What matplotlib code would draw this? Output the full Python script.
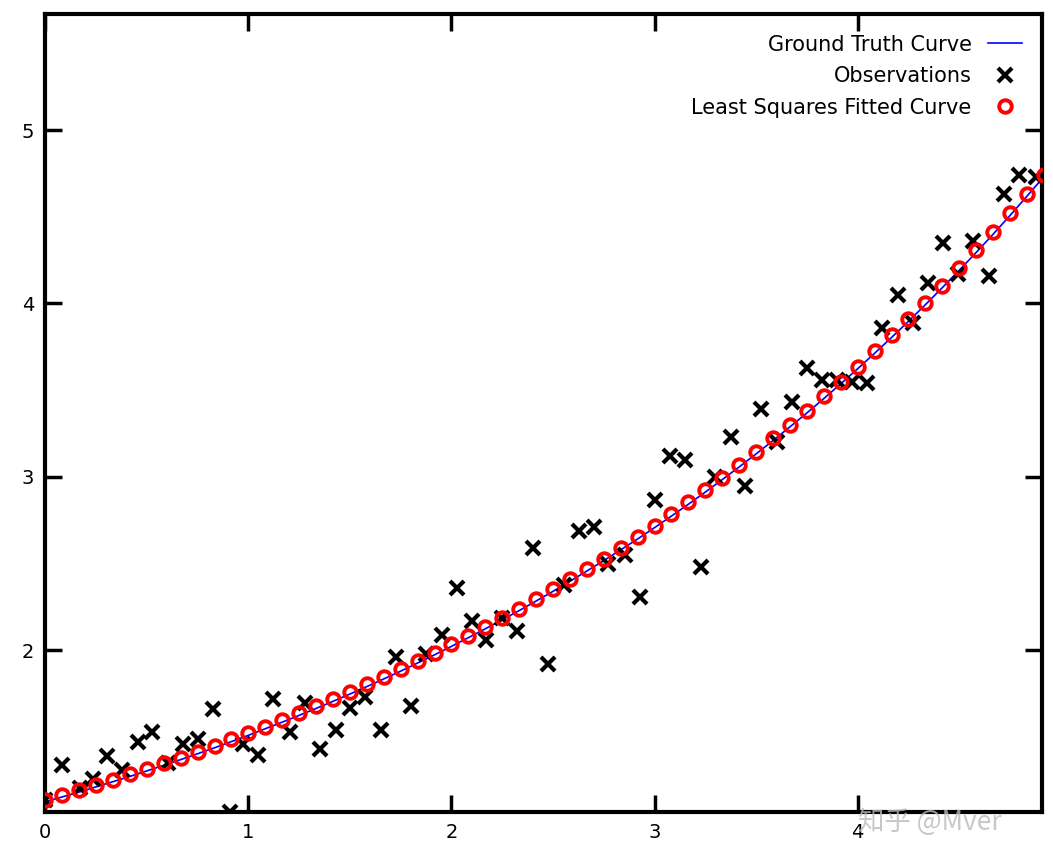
import matplotlib
matplotlib.use("Agg")
import matplotlib.pyplot as plt

fit_x = [i/12 for i in range(60)]
fit_y = [1.140,1.168,1.196,1.226,1.256,1.286,1.318,1.350,1.383,1.417,1.451,1.487,1.523,1.561,1.599,1.638,
         1.678,1.719,1.761,1.804,1.848,1.893,1.940,1.987,2.036,2.086,2.137,2.189,2.242,2.297,2.353,2.411,
         2.470,2.530,2.592,2.655,2.720,2.787,2.855,2.925,2.997,3.070,3.145,3.222,3.301,3.381,3.464,3.549,
         3.636,3.725,3.816,3.909,4.005,4.103,4.203,4.306,4.411,4.519,4.630,4.743]
truth_y = [v - 0.012 for v in fit_y]

obs_x = [0.0,.084,.172,.236,.305,.379,.458,.527,.606,.680,.754,.828,.911,.975,1.049,1.123,1.207,1.281,1.355,
         1.429,1.502,1.576,1.655,1.729,1.803,1.877,1.951,2.025,2.099,2.172,2.251,2.325,2.399,2.473,2.552,
         2.626,2.700,2.773,2.852,2.926,3.0,3.074,3.148,3.227,3.296,3.374,3.443,3.522,3.601,3.675,3.749,
         3.823,3.897,3.970,4.044,4.118,4.197,4.271,4.345,4.419,4.493,4.567,4.645,4.719,4.793,4.877]
obs_y = [1.14,1.34,1.21,1.26,1.39,1.31,1.47,1.53,1.35,1.46,1.49,1.66,1.07,1.46,1.40,1.72,1.53,1.70,1.43,
         1.54,1.67,1.73,1.54,1.96,1.68,1.98,2.09,2.36,2.17,2.06,2.19,2.11,2.59,1.92,2.38,2.69,2.71,2.50,
         2.55,2.31,2.87,3.12,3.10,2.48,3.00,3.23,2.95,3.39,3.20,3.43,3.63,3.56,3.56,3.55,3.54,3.86,4.05,
         3.89,4.12,4.35,4.17,4.36,4.16,4.63,4.74,4.73]

fig = plt.figure(figsize=(10.53, 8.60), dpi=100)
ax = fig.add_axes([0.043, 0.056, 0.947, 0.928])
ax.plot(fit_x, truth_y, color='#0000ff', lw=1.2, label='Ground Truth Curve', zorder=2)
ax.plot(obs_x, obs_y, 'x', color='black', ms=10, mew=3, label='Observations', zorder=3)
ax.plot(fit_x, fit_y, 'o', mfc='none', mec='#ff0000', ms=9, mew=2.8, label='Least Squares Fitted Curve', zorder=4)
ax.set_xlim(0, 4.91)
ax.set_ylim(1.07, 5.67)
ax.set_xticks([0,1,2,3,4])
ax.set_yticks([2,3,4,5])
ax.tick_params(direction='in', length=12, width=2.5, top=True, right=True, labelsize=14, pad=8)
for s in ax.spines.values():
    s.set_linewidth(3)
leg = ax.legend(loc='upper right', frameon=False, markerfirst=False, fontsize=15,
                handlelength=1.6, borderaxespad=0.6, labelspacing=0.55)
fig.text(0.815, 0.035, '知乎 @Mver', fontsize=19, color='#bbbbbb', alpha=0.8,
         family=['Noto Sans CJK SC', 'DejaVu Sans'])
fig.savefig('out.png')
